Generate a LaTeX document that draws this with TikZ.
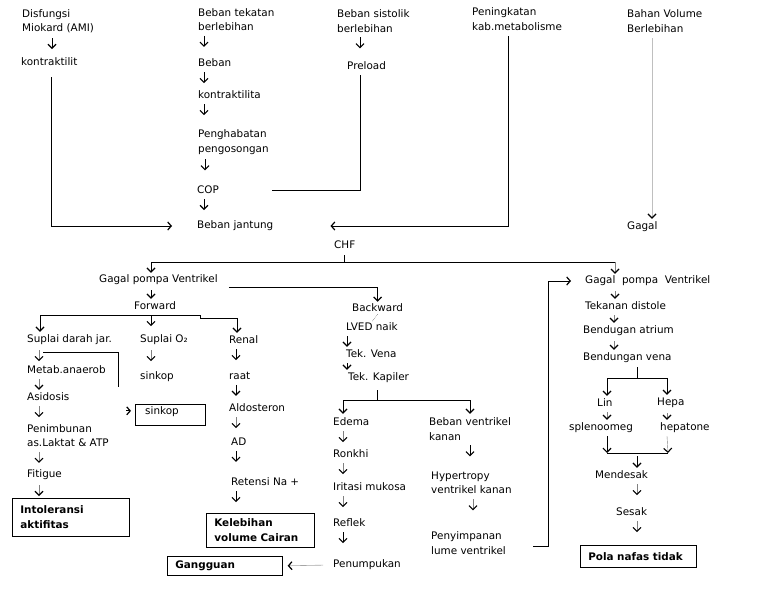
\documentclass[tikz,border=0pt]{standalone}
\usepackage{fontspec}
\setmainfont{DejaVu Sans}
\usetikzlibrary{arrows.meta,calc}
\newcommand\dn[4][arr]{\path ($(#2.south west)+(#4,0)$) coordinate (t) (t |- #3.north) coordinate (tn);
  \draw[#1] let \p1=(t), \p2=(tn), \n2={max(\y1-15,\y2+2)}, \n1={max(\y1-4,\n2+6)} in (\x1,\n1) -- (\x1,\n2);}
\begin{document}
\begin{tikzpicture}[x=1pt,y=-1pt,
  txt/.style={anchor=west,inner sep=1pt,align=left,font=\fontsize{10.4}{14.5}\selectfont},
  bx/.style={draw,line width=0.7pt,anchor=north west,inner ysep=0pt,inner xsep=8pt,align=left,
     font=\bfseries\fontsize{10.4}{14.5}\selectfont},
  ln/.style={line width=0.8pt},
  arr/.style={line width=0.6pt,-{Straight Barb[length=4pt,width=8pt,line width=1.2pt]}},
  sarr/.style={line width=0.4pt,gray,-{Straight Barb[length=4pt,width=8pt,line width=1.1pt,color=black]}},
  harr/.style={line width=0.8pt,-{Straight Barb[length=3.5pt,width=8pt,line width=1.2pt]}},
]
\useasboundingbox[fill=white] (0,0) rectangle (768,594);

% ---------- top ----------
\node[txt] (d1) at (21,21) {Disfungsi\\Miokard (AMI)};
\node[txt] (d2) at (20,62) {kontraktilit};
\node[txt] (b1) at (197,19.5) {Beban tekatan\\berlebihan};
\node[txt] (b2) at (197,63) {Beban};
\node[txt] (b3) at (197,95) {kontraktilita};
\node[txt] (b4) at (197,142) {Penghabatan\\pengosongan};
\node[txt] (b5) at (196,190) {COP};
\node[txt] (bj) at (196,226) {Beban jantung};
\node[txt] (s1) at (336,21) {Beban sistolik\\berlebihan};
\node[txt] (s2) at (346,66) {Preload};
\node[txt] (p1) at (471,19) {Peningkatan\\kab.metabolisme};
\node[txt] (v1) at (626,21) {Bahan Volume\\Berlebihan};
\node[txt] (v2) at (626,227) {Gagal};
\node[txt] (chf) at (333,245) {CHF};

\dn{d1}{d2}{31}
\dn{b1}{b2}{7}
\dn{b2}{b3}{7}
\dn{b3}{b4}{7}
\dn{b4}{b5}{8}
\dn{b5}{bj}{8}
\dn{s1}{s2}{24}
\draw[line width=0.7pt,gray!50,-{Straight Barb[length=4pt,width=8pt,line width=1.2pt,color=black]}]
  ($(v1.south west)+(26,5)$) coordinate (t) -- ($(t |- v2.north)+(0,-2)$);

\draw[harr,shorten >=24pt] ($(d2.south west)+(31,10)$) |- (bj.west);
\draw[ln,shorten >=52pt] ($(s2.south west)+(14,4)$) |- (b5.east);
\draw[harr,shorten >=56pt] ($(p1.south west)+(37,5)$) |- (bj.east);

% ---------- CHF split ----------
\node[txt] (gl) at (98,280) {Gagal pompa Ventrikel};
\node[txt] (gr) at (584,281) {Gagal\ \ pompa\ \ Ventrikel};
\coordinate (hl) at (151,262);
\coordinate (hr) at (615,262);
\draw[ln] ($(chf.south)+(0,5)$) coordinate (t) -- (t |- hl);
\draw[ln] (hl) -- (hr);
\draw[arr] (hl) -- ($(hl |- gl.north)+(0,-1)$);
\draw[sarr] (hr) -- ($(hr |- gr.north)+(0,-1)$);

% ---------- Forward ----------
\node[txt] (fw) at (133,306) {Forward};
\node[txt] (bw) at (351,308) {Backward};
\dn{gl}{fw}{53}
\draw[arr] ($(gl.south east)+(10,1.5)$) -| ($(bw.north)+(0,-1)$);

\node[txt] (sd) at (26,340) {Suplai darah jar.};
\node[txt] (so) at (139,340) {Suplai O₂};
\node[txt] (rn) at (228,340) {Renal};
\coordinate (f1) at (40,315);
\coordinate (f2) at (200,315);
\coordinate (f3) at (237,318);
\draw[ln] (f1) -- (f2) |- (f3);
\draw[arr] (f1) -- ($(f1 |- sd.north)+(0,-2)$);
\dn{fw}{so}{18}
\draw[arr] (f3) -- ($(f3 |- rn.north)+(0,-2)$);

% column 1
\node[txt] (ma) at (26,370) {Metab.anaerob};
\node[txt] (as) at (26,397) {Asidosis};
\node[txt] (pn) at (26,435.5) {Penimbunan\\as.Laktat \& ATP};
\node[txt] (fi) at (26,475) {Fitigue};
\node[bx,text width=101pt,minimum height=38pt] (it) at (12,498) {Intoleransi\\aktifitas};
\dn[sarr]{sd}{ma}{13}
\dn[sarr]{ma}{as}{13}
\dn[sarr]{as}{pn}{13}
\dn[sarr]{pn}{fi}{13}
\dn[sarr]{fi}{it}{13}
\draw[ln] ($(sd.south west)+(17,6)$) -- ++(75,0) -- ++(0,35);

% column 2
\node[txt] (sk1) at (139,377) {sinkop};
\node[draw,line width=0.7pt,anchor=north west,inner sep=0pt,minimum width=70pt,minimum height=21pt] (sk2) at (135,404) {};
\node[txt] (sk2t) at (144,412) {sinkop};
\dn[sarr]{so}{sk1}{12}
\draw[harr] ($(sk2.west)+(-9,-4)$) -- ($(sk2.west)+(-4,-4)$);

% column 3
\node[txt] (ra) at (228,376) {raat};
\node[txt] (al) at (228,408) {Aldosteron};
\node[txt] (ad) at (230,442) {AD};
\node[txt] (rt) at (230,482) {Retensi Na +};
\node[bx,text width=92pt,minimum height=34pt] (kv) at (206,513) {Kelebihan\\volume Cairan};
\dn{rn}{ra}{8}
\dn{ra}{al}{8}
\dn[sarr]{al}{ad}{8}
\dn{ad}{rt}{6}
\dn{rt}{kv}{6}

\node[bx,text width=99pt,minimum height=19pt] (gg) at (167,556) {Gangguan};

% ---------- Backward ----------
\node[txt] (lv) at (345,327) {LVED naik};
\node[txt] (tv) at (345,354) {Tek. Vena};
\node[txt] (tk) at (347,378) {Tek. Kapiler};
\draw[line width=0.6pt,densely dotted,gray] ($(bw.south)+(0,1)$) -- (lv.north);
\dn{lv}{tv}{2}
\dn{tv}{tk}{2}
\coordinate (k1) at (343,400);
\coordinate (k2) at (470,400);
\draw[ln] ($(tk.south west)+(30,6)$) coordinate (t) -- (t |- k1);
\draw[ln] (k1) -- (k2);

\node[txt] (ed) at (332,422) {Edema};
\node[txt] (ro) at (332,454) {Ronkhi};
\node[txt] (ir) at (332,487) {Iritasi mukosa};
\node[txt] (rf) at (332,523) {Reflek};
\node[txt] (pk) at (332,565) {Penumpukan};
\draw[arr] (k1) -- ($(k1 |- ed.north)+(0,-3)$);
\draw[arr] (k2) -- ($(k2 |- ed.north)+(0,-3)$);
\dn[sarr]{ed}{ro}{11}
\dn[sarr]{ro}{ir}{11}
\dn[sarr]{ir}{rf}{11}
\dn{rf}{pk}{11}
\draw[line width=0.6pt,gray!70,shorten <=9pt,shorten >=5pt,-{Straight Barb[length=3.5pt,width=8pt,line width=1.2pt,color=black]}] (pk.west) -- (gg.east);

\node[txt] (bv) at (428,429) {Beban ventrikel\\kanan};
\node[txt] (hy) at (430,483) {Hypertropy\\ventrikel kanan};
\node[txt] (py) at (430,543) {Penyimpanan\\lume ventrikel};
\dn{bv}{hy}{42}
\dn[sarr]{hy}{py}{43}

\draw[harr,shorten >=13pt] ($(py.east)+(26,3)$) -- ++(15,0) |- (gr.west);

% ---------- right column ----------
\node[txt] (td) at (584,306) {Tekanan distole};
\node[txt] (ba) at (582,331) {Bendugan atrium};
\node[txt] (bve) at (582,358) {Bendungan vena};
\dn[sarr]{gr}{td}{31}
\dn[sarr]{td}{ba}{30}
\dn[sarr]{ba}{bve}{32}
\coordinate (l1) at (607,378);
\coordinate (l2) at (667,378);
\draw[ln] ($(bve.south west)+(55,3)$) coordinate (t) -- (t |- l1);
\draw[ln] (l1) -- (l2);
\node[txt] (li) at (596,403) {Lin};
\node[txt] (he) at (656,403) {Hepa};
\draw[arr] (l1) -- ($(l1 |- li.north)+(0,-2)$);
\draw[arr] (l2) -- ($(l2 |- he.north)+(0,-2)$);
\node[txt] (sp) at (568,428) {splenoomeg};
\node[txt] (hp) at (659,428) {hepatone};
\dn[sarr]{li}{sp}{11}
\dn[sarr]{he}{hp}{11}
\coordinate (m1) at (607,453);
\coordinate (m0) at (637,453);
\coordinate (m2) at (668,453);
\draw[arr] ($(sp.south west)+(39,2)$) -- (m1);
\draw[sarr] ($(hp.south west)+(8,2)$) -- (m2);
\draw[ln] (m1) -- (m2);
\node[txt] (md) at (594,475) {Mendesak};
\node[txt] (ss) at (615,512) {Sesak};
\node[bx,text width=100pt,minimum height=22pt] (pf) at (580,545) {Pola nafas tidak};
\draw[arr] ($(m0)+(0,3)$) -- ($(m0 |- md.north)+(0,-2)$);
\dn[sarr]{md}{ss}{43}
\dn[sarr]{ss}{pf}{22}
\end{tikzpicture}
\end{document}
